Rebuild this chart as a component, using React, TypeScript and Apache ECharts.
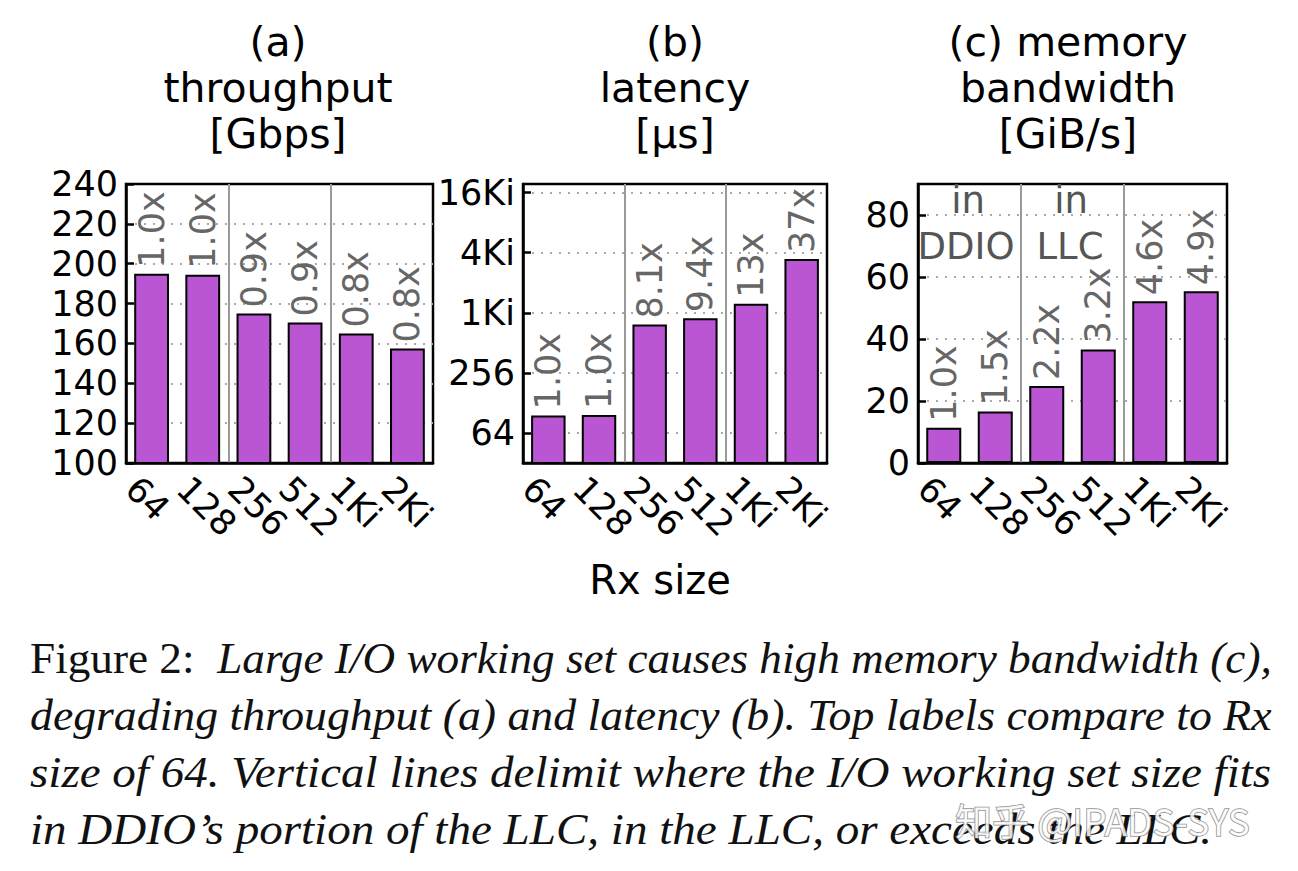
import React, { useEffect, useRef } from 'react';
import * as echarts from 'echarts';

const categories = ['64', '128', '256', '512', '1Ki', '2Ki'];

const throughput = [195, 194.5, 175, 170.5, 165, 157.5];
const throughputLabels = ['1.0x', '1.0x', '0.9x', '0.9x', '0.8x', '0.8x'];

const latency = [96, 97, 780, 905, 1260, 3550];
const latencyLabels = ['1.0x', '1.0x', '8.1x', '9.4x', '13x', '37x'];

const bandwidth = [11.4, 16.6, 24.8, 36.6, 52.2, 55.4];
const bandwidthLabels = ['1.0x', '1.5x', '2.2x', '3.2x', '4.6x', '4.9x'];

const panelTitles = ['(a)\nthroughput\n[Gbps]', '(b)\nlatency\n[\u00b5s]', '(c) memory\nbandwidth\n[GiB/s]'];

const captionFirstLead = 'Figure 2:';
const captionLines = [
  '  Large I/O working set causes high memory bandwidth (c),',
  'degrading throughput (a) and latency (b). Top labels compare to Rx',
  'size of 64. Vertical lines delimit where the I/O working set size fits',
  'in DDIO\u2019s portion of the LLC, in the LLC, or exceeds the LLC.',
];

const SANS = '"DejaVu Sans", sans-serif';
const SERIF = '"Liberation Serif", "Times New Roman", serif';
const PURPLE = '#BA55D3';

export default function App() {
  const ref = useRef<HTMLDivElement>(null);

  useEffect(() => {
    if (!ref.current) return;
    const chart = echarts.init(ref.current, null, { renderer: 'svg' });

    const canvas = document.createElement('canvas');
    const ctx = canvas.getContext('2d')!;
    const measure = (font: string, t: string) => {
      ctx.font = font;
      return ctx.measureText(t).width;
    };
    const capSize = 45;
    const capTargets = [1242, 1242, 1242, 1182];
    const capY = [658, 715, 772, 829];

    const grids = [
      { left: 126, top: 184, width: 307, height: 279 },
      { left: 523, top: 184, width: 304, height: 279 },
      { left: 918, top: 184, width: 309, height: 279 },
    ];

    const xAxes = grids.map((_, i) => ({
      gridIndex: i,
      type: 'category',
      data: categories,
      axisLine: { show: true, lineStyle: { color: '#000', width: 2.5 } },
      axisTick: { show: false },
      axisLabel: {
        interval: 0,
        rotate: -45,
        align: 'left',
        verticalAlign: 'top',
        lineHeight: 56,
        margin: 0,
        fontSize: 35,
        fontFamily: SANS,
        color: '#000',
      },
      splitLine: {
        show: true,
        showMinLine: false,
        showMaxLine: false,
        interval: (idx: number) => idx === 0 || idx === 2 || idx === 4,
        lineStyle: { color: '#999', width: 2 },
      },
    }));

    const commonY = {
      axisLine: { show: true, lineStyle: { color: '#000', width: 2.5 } },
      axisTick: { show: true, inside: true, length: 8, lineStyle: { color: '#000', width: 2.5 } },
      splitLine: {
        show: true,
        showMinLine: false,
        showMaxLine: false,
        lineStyle: { color: '#aaa', width: 2, type: [2, 7] },
      },
    };

    const yAxes = [
      {
        ...commonY,
        gridIndex: 0,
        type: 'value',
        min: 100,
        max: 240,
        interval: 20,
        axisLabel: { fontSize: 35, fontFamily: SANS, color: '#000', margin: 8 },
      },
      {
        ...commonY,
        gridIndex: 1,
        type: 'log',
        logBase: 4,
        min: 32,
        max: 20000,
        axisLabel: {
          fontSize: 35,
          fontFamily: SANS,
          color: '#000',
          margin: 8,
          showMinLabel: false,
          showMaxLabel: false,
          formatter: (v: number) => {
            const r = Math.round(v);
            return r >= 1024 ? r / 1024 + 'Ki' : String(r);
          },
        },
      },
      {
        ...commonY,
        gridIndex: 2,
        type: 'value',
        min: 0,
        max: 90,
        interval: 20,
        axisLabel: { fontSize: 35, fontFamily: SANS, color: '#000', margin: 8, showMaxLabel: false },
      },
    ];

    const mkSeries = (idx: number, data: number[], labels: string[]) => ({
      type: 'bar',
      xAxisIndex: idx,
      yAxisIndex: idx,
      data,
      barCategoryGap: '32%',
      itemStyle: { color: PURPLE, borderColor: '#000', borderWidth: 2 },
      label: {
        show: true,
        position: 'top',
        distance: 6,
        rotate: 90,
        align: 'left',
        verticalAlign: 'middle',
        fontSize: 35,
        fontFamily: SANS,
        color: '#666',
        formatter: (p: any) => labels[p.dataIndex],
      },
    });

    const titleX = [278, 675, 1068];
    const graphics: any[] = panelTitles.map((t, i) => ({
      type: 'text',
      x: titleX[i],
      y: 88,
      style: {
        text: t,
        fontSize: 41,
        lineHeight: 46,
        fontFamily: SANS,
        fill: '#000',
        align: 'center',
        verticalAlign: 'middle',
      },
    }));

    const inLabels = [
      { t: 'in', x: 968, y: 200 },
      { t: 'DDIO', x: 966, y: 246 },
      { t: 'in', x: 1071, y: 200 },
      { t: 'LLC', x: 1070, y: 246 },
    ];
    inLabels.forEach((l) =>
      graphics.push({
        type: 'text',
        x: l.x,
        y: l.y,
        z: 10,
        style: {
          text: l.t,
          fontSize: 37,
          fontFamily: SANS,
          fill: '#555',
          align: 'center',
          verticalAlign: 'middle',
        },
      })
    );

    graphics.push({
      type: 'text',
      x: 660,
      y: 580,
      style: {
        text: 'Rx size',
        fontSize: 40,
        fontFamily: SANS,
        fill: '#000',
        align: 'center',
        verticalAlign: 'middle',
      },
    });

    captionLines.forEach((line, i) => {
      let w: number;
      let text: string;
      if (i === 0) {
        w =
          measure(`${capSize}px "Liberation Serif"`, captionFirstLead) +
          measure(`italic ${capSize}px "Liberation Serif"`, line);
        text = `{r|${captionFirstLead}}{i|${line}}`;
      } else {
        w = measure(`italic ${capSize}px "Liberation Serif"`, line);
        text = `{i|${line}}`;
      }
      const sx = w > 0 ? capTargets[i] / w : 1;
      graphics.push({
        type: 'text',
        x: 30,
        y: capY[i],
        scaleX: sx,
        style: {
          text,
          fontSize: capSize,
          fontFamily: SERIF,
          fill: '#111',
          align: 'left',
          verticalAlign: 'middle',
          rich: {
            r: { fontSize: capSize, fontFamily: SERIF, fontStyle: 'normal', fill: '#111' },
            i: { fontSize: capSize, fontFamily: SERIF, fontStyle: 'italic', fill: '#111' },
          },
        },
      });
    });

    graphics.push({
      type: 'text',
      x: 955,
      y: 820,
      z: 100,
      style: {
        text: '\u77e5\u4e4e @IPADS-SYS',
        fontSize: 37,
        fontFamily: '"Noto Sans CJK SC", "Noto Sans", sans-serif',
        fill: 'rgba(255,255,255,0.85)',
        stroke: 'rgba(110,110,110,0.75)',
        lineWidth: 1.5,
        align: 'left',
        verticalAlign: 'middle',
      },
    });

    chart.setOption({
      animation: false,
      backgroundColor: '#fff',
      grid: grids.map((g) => ({
        ...g,
        show: true,
        borderColor: '#000',
        borderWidth: 2.5,
        backgroundColor: 'transparent',
        containLabel: false,
      })),
      xAxis: xAxes,
      yAxis: yAxes,
      series: [
        mkSeries(0, throughput, throughputLabels),
        mkSeries(1, latency, latencyLabels),
        mkSeries(2, bandwidth, bandwidthLabels),
      ],
      graphic: graphics,
    });

    return () => chart.dispose();
  }, []);

  return (
    <div style={{ position: 'fixed', left: 0, top: 0, width: 1298, height: 871, background: '#fff' }}>
      <div ref={ref} style={{ width: 1298, height: 871 }} />
    </div>
  );
}
